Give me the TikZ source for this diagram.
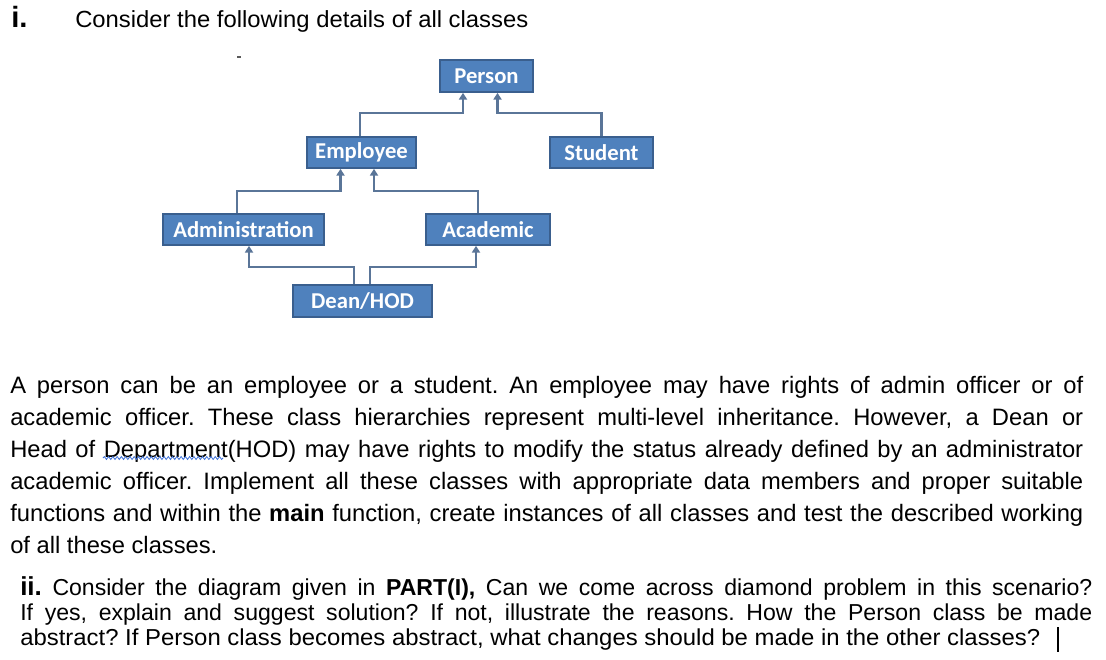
\documentclass[tikz,border=0pt]{standalone}
\usepackage{fontspec}
\setmainfont{Liberation Sans}
\newfontfamily\boxfont{Carlito}
\usetikzlibrary{arrows.meta,decorations.pathmorphing}
\definecolor{boxfill}{HTML}{4F81BD}
\definecolor{boxline}{HTML}{3A5F8E}
\definecolor{conn}{HTML}{5A7598}
\definecolor{spell}{HTML}{3F72D9}
\newlength\pxu \setlength\pxu{0.75pt}
\newcommand\jline[2]{\makebox[#1\pxu][s]{#2}}
\newcommand\fitw[2]{\resizebox{#1\pxu}{\height}{#2}}
\frenchspacing
\begin{document}
\begin{tikzpicture}[x=0.75pt,y=-0.75pt,
  cls/.style={draw=boxline, line width=1.3pt, fill=boxfill, text=white,
    font=\boxfont\bfseries\fontsize{17pt}{19pt}\selectfont, inner sep=0pt,
    minimum height=31\pxu},
  link/.style={draw=conn, line width=2pt, -{Triangle[length=5pt,width=6pt]}},
  para/.style={anchor=base west, inner sep=0pt, font=\fontsize{17.8pt}{20pt}\selectfont},
  partii/.style={anchor=base west, inner sep=0pt, font=\fontsize{17.3pt}{20pt}\selectfont}]
\useasboundingbox (0,0) rectangle (1106,660);

% heading
\node[anchor=base west, inner sep=0pt, font=\bfseries\fontsize{22pt}{24pt}\selectfont] (hi) at (11,28) {i.};
\node[anchor=base west, inner sep=0pt, font=\fontsize{17.5pt}{20pt}\selectfont] (htitle) at (75,28) {\fitw{453}{Consider the following details of all classes}};

% stray mark
\draw[gray!70!black, line width=0.9pt] (237,57) -- (241,57);

% class boxes
\node[cls, minimum width=93\pxu, minimum height=32\pxu] (person) at (486.5,76) {Person};
\node[cls, minimum width=109\pxu] (emp) at (361.5,152.5) {Employee};
\node[cls, minimum width=103\pxu] (stu) at (601.5,152.5) {Student};
\node[cls, minimum width=161\pxu] (adm) at (243.5,229.5) {Administration};
\node[cls, minimum width=124\pxu] (acad) at (488,229.5) {Academic};
\node[cls, minimum width=139\pxu, minimum height=32\pxu] (dean) at (362.5,301) {Dean/HOD};

% connectors
\draw[link] ([xshift=-1.5\pxu]emp.north) -- ++(0,-23) -| ([xshift=-23.5\pxu]person.south);
\draw[link] (stu.north) -- ++(0,-23) -| ([xshift=11\pxu]person.south);
\draw[link] ([xshift=-6.5\pxu]adm.north) -- ++(0,-22) -| ([xshift=-21\pxu]emp.south);
\draw[link] ([xshift=-10\pxu]acad.north) -- ++(0,-22) -| ([xshift=12.5\pxu]emp.south);
\draw[link] ([xshift=-8.5\pxu]dean.north) -- ++(0,-17) -| ([xshift=5.5\pxu]adm.south);
\draw[link] ([xshift=7.5\pxu]dean.north) -- ++(0,-17) -| ([xshift=-12\pxu]acad.south);

% paragraph of part i
\node[para] (p1) at (10,393) {\jline{1073}{A person can be an employee or a student. An employee may have rights of admin officer or of}};
\node[para] (p2) at (10,425) {\jline{1073}{academic officer. These class hierarchies represent multi-level inheritance. However, a Dean or}};
\node[para] (p3) at (10,457) {\jline{1073}{Head of Department(HOD) may have rights to modify the status already defined by an administrator}};
\node[para] (p4) at (10,489) {\jline{1073}{academic officer. Implement all these classes with appropriate data members and proper suitable}};
\node[para] (p5) at (10,521) {\jline{1073}{functions and within the \textbf{main} function, create instances of all classes and test the described working}};
\node[para] (p6) at (10,553) {of all these classes.};

% spell-check underline
\draw[spell, line width=0.6pt, decorate, decoration={snake, amplitude=1.1pt, segment length=3.2pt}] (103,458) -- (223,458);

% part ii
\node[partii] (q1) at (20,595) {\jline{1072}{{\bfseries\fontsize{19.5pt}{20pt}\selectfont ii.} Consider the diagram given in \textbf{PART(I),} Can we come across diamond problem in this scenario?}};
\node[partii] (q2) at (20,620) {\jline{1072}{If yes, explain and suggest solution? If not, illustrate the reasons. How the Person class be made}};
\node[partii] (q3) at (20,645) {\fitw{1020}{abstract? If Person class becomes abstract, what changes should be made in the other classes?}};

% text cursor
\draw[black, line width=0.8pt] (1058,627) -- (1058,652);
\end{tikzpicture}
\end{document}
